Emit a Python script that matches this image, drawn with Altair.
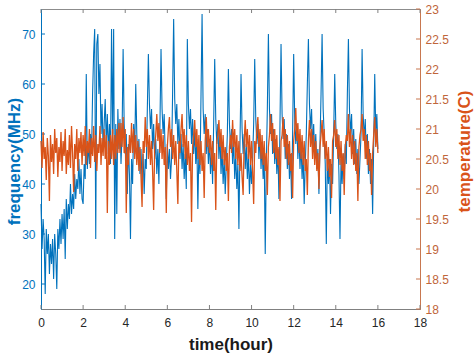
import altair as alt
import pandas as pd

# frequency (MHz), sampled every 0.05 h from 0 to 16 h (one row = one hour)
freq = [
    36, 27, 33, 29, 18, 31, 26, 30, 22, 28, 24, 29, 21, 30, 26, 19, 31, 27, 33, 28,
    34, 29, 35, 25, 37, 31, 36, 33, 40, 34, 38, 35, 42, 37, 41, 39, 45, 38, 43, 37,
    36, 44, 41, 62, 43, 48, 44, 50, 46, 58, 66, 71, 29, 68, 70, 58, 64, 50, 56, 47,
    52, 57, 48, 54, 46, 52, 44, 71, 50, 71, 29, 52, 34, 55, 47, 53, 44, 50, 67, 52,
    46, 50, 38, 48, 42, 29, 45, 40, 52, 46, 60, 50, 45, 49, 42, 47, 40, 46, 38, 45,
    43, 55, 66, 56, 51, 55, 47, 52, 45, 49, 42, 47, 40, 52, 67, 55, 50, 54, 46, 37,
    48, 43, 47, 41, 45, 58, 73, 57, 52, 56, 48, 53, 45, 50, 43, 48, 41, 46, 39, 69,
    56, 51, 55, 48, 53, 46, 51, 44, 49, 35, 47, 42, 58, 74, 55, 50, 54, 46, 51, 44,
    49, 42, 47, 40, 52, 65, 53, 48, 52, 45, 50, 42, 47, 40, 45, 38, 44, 50, 63, 52,
    47, 51, 44, 49, 41, 46, 39, 44, 31, 48, 62, 51, 46, 50, 43, 48, 41, 46, 38, 44,
    40, 45, 52, 65, 53, 48, 52, 45, 50, 43, 48, 41, 46, 26, 44, 55, 70, 55, 50, 54,
    46, 51, 44, 49, 42, 47, 37, 52, 68, 54, 49, 53, 45, 50, 43, 48, 41, 46, 37, 50,
    66, 53, 48, 52, 45, 50, 43, 48, 41, 46, 36, 44, 50, 60, 69, 56, 51, 55, 47, 52,
    45, 50, 43, 47, 38, 48, 58, 70, 55, 50, 44, 28, 46, 40, 45, 34, 44, 40, 50, 62,
    52, 47, 50, 42, 29, 45, 40, 46, 41, 48, 44, 58, 69, 55, 50, 54, 46, 51, 44, 49,
    42, 47, 40, 45, 50, 67, 54, 49, 53, 45, 50, 42, 47, 40, 45, 34, 48, 62, 50, 54,
    47,
]

# temperature (C), same sampling
temp = [
    20.8, 20.35, 20.95, 20.5, 20.7, 20.15, 20.85, 20.55, 19.8, 20.9, 20.45, 20.75, 20.25, 21.0, 20.6, 20.85, 20.2, 20.7, 20.45, 20.95,
    20.3, 20.8, 20.55, 21.0, 20.25, 20.65, 20.4, 20.9, 20.35, 21.05, 20.6, 19.95, 20.75, 20.5, 21.0, 20.3, 20.85, 20.6, 20.95, 20.4,
    20.9, 20.55, 21.05, 20.4, 20.8, 20.6, 21.0, 20.35, 20.85, 20.55, 21.05, 20.45, 20.9, 20.3, 20.75, 20.6, 21.05, 20.4, 20.85, 20.55,
    21.0, 20.5, 20.9, 19.6, 20.8, 20.4, 20.9, 20.5, 21.0, 20.4, 20.9, 20.5, 21.0, 20.6, 21.1, 20.6, 21.1, 20.7, 21.2, 20.6,
    21.0, 19.6, 20.7, 20.4, 20.9, 20.6, 21.1, 20.6, 21.0, 20.5, 20.9, 20.4, 20.8, 20.3, 20.7, 20.2, 19.7, 20.8, 20.6, 21.2,
    20.7, 21.0, 20.5, 20.9, 20.4, 20.8, 20.3, 19.65, 20.7, 20.9, 21.25, 20.8, 21.1, 20.6, 21.0, 20.5, 20.9, 20.4, 20.7, 19.6,
    20.7, 21.0, 21.2, 20.7, 21.0, 20.5, 20.9, 20.4, 20.8, 20.3, 19.75, 20.8, 20.6, 21.0, 21.25, 20.7, 21.0, 20.5, 20.9, 20.4,
    20.8, 20.3, 20.6, 19.45, 20.7, 20.9, 21.15, 20.7, 21.0, 20.5, 20.9, 20.4, 20.8, 20.3, 20.6, 19.85, 20.8, 21.2, 20.7, 21.0,
    20.6, 20.9, 20.4, 20.8, 20.3, 20.6, 19.65, 20.8, 20.9, 21.15, 20.7, 21.0, 20.5, 20.9, 20.4, 20.7, 20.3, 20.6, 19.8, 20.7,
    20.9, 20.6, 21.15, 20.7, 21.0, 20.5, 20.9, 20.4, 20.8, 20.3, 20.6, 20.2, 19.9, 20.8, 21.15, 20.7, 21.0, 20.5, 20.9, 20.4,
    20.8, 20.3, 19.75, 20.8, 20.6, 21.0, 21.2, 20.7, 21.0, 20.5, 20.9, 20.4, 20.8, 20.3, 20.6, 19.9, 20.7, 20.9, 21.25, 20.8,
    21.1, 20.6, 21.0, 20.5, 20.9, 20.4, 20.7, 19.8, 20.8, 20.9, 21.2, 20.7, 21.0, 20.5, 20.9, 20.4, 20.8, 20.3, 20.6, 19.85,
    20.8, 21.0, 21.35, 20.8, 21.1, 20.6, 21.0, 20.5, 20.9, 20.4, 20.8, 20.3, 20.5, 19.9, 20.8, 21.15, 20.7, 21.0, 20.5, 20.9,
    20.4, 20.8, 20.3, 20.6, 20.0, 20.7, 20.9, 21.15, 20.7, 21.0, 20.5, 20.8, 20.3, 20.7, 20.2, 20.5, 19.85, 20.8, 20.9, 21.15,
    20.7, 21.0, 20.5, 20.9, 20.4, 20.8, 20.3, 20.6, 19.9, 20.7, 20.9, 20.8, 21.25, 20.7, 21.0, 20.5, 20.9, 20.4, 20.8, 20.3,
    20.6, 19.8, 20.7, 20.9, 21.0, 21.25, 20.8, 21.0, 20.5, 20.9, 20.4, 20.8, 20.3, 20.6, 19.9, 20.6, 20.9, 21.2, 20.7, 21.0,
    20.6,
]

time = [round(i * 0.05, 2) for i in range(len(freq))]

x_ticks = [0, 2, 4, 6, 8, 10, 12, 14, 16, 18]
freq_ticks = [20, 30, 40, 50, 60, 70]
temp_ticks = [18, 18.5, 19, 19.5, 20, 20.5, 21, 21.5, 22, 22.5, 23]

W, H = 379, 300
BLUE = "#0072BD"
ORANGE = "#D95319"
GRAY = "#808080"
FONT = "Liberation Sans"

df = pd.DataFrame({"time": time, "freq": freq, "temp": temp})
xt = pd.DataFrame({"time": x_ticks})
ft = pd.DataFrame({"freq": freq_ticks})
tt = pd.DataFrame({"temp": temp_ticks})

x_scale = alt.Scale(domain=[0, 18], nice=False, zero=False)
f_scale = alt.Scale(domain=[15, 75], nice=False, zero=False)
t_scale = alt.Scale(domain=[18, 23], nice=False, zero=False)

x_axis = alt.Axis(
    values=x_ticks, title="time(hour)", ticks=False, grid=False,
    domainColor=GRAY, labelColor="#262626", labelPadding=8,
    labelFlush=False, labelOverlap=False,
    titleColor="#1a1a1a", titleY=40, titleBaseline="alphabetic")
f_axis = alt.Axis(
    orient="left", values=freq_ticks, title="frequency(MHz)", ticks=False,
    grid=False, domainColor=BLUE, labelColor=BLUE, labelPadding=6,
    labelOverlap=False,
    titleColor=BLUE, titleAngle=270, titleX=-27, titleY=152,
    titleBaseline="middle", titleAlign="center")
t_axis = alt.Axis(
    orient="right", values=temp_ticks, format="~g", title="temperature(C)",
    ticks=False, grid=False, domainColor="#C8774F", labelColor="#C0653A",
    labelPadding=5, labelOverlap=False,
    titleColor=ORANGE, titleAngle=270, titleX=44,
    titleY=142, titleBaseline="middle", titleAlign="center")

X = alt.X("time:Q", scale=x_scale, axis=x_axis)
YF = alt.Y("freq:Q", scale=f_scale, axis=f_axis)
YT = alt.Y("temp:Q", scale=t_scale, axis=t_axis)

blue = alt.Chart(df).mark_line(color=BLUE, strokeWidth=1.1).encode(x=X, y=YF)

xtick_bottom = alt.Chart(xt).mark_rule(color=GRAY).encode(
    x=X, y=alt.value(H), y2=alt.value(H - 4))
xtick_top = alt.Chart(xt).mark_rule(color=GRAY).encode(
    x=X, y=alt.value(0), y2=alt.value(4))
ftick = alt.Chart(ft).mark_rule(color=BLUE).encode(
    y=YF, x=alt.value(0), x2=alt.value(4))

orange = alt.Chart(df).mark_line(color=ORANGE, strokeWidth=1.3).encode(x=X, y=YT)
ttick = alt.Chart(tt).mark_rule(color="#C8774F").encode(
    y=YT, x=alt.value(W - 4), x2=alt.value(W))

left = alt.layer(blue, xtick_bottom, xtick_top, ftick)
right = alt.layer(orange, ttick)

chart = alt.layer(left, right).resolve_scale(y="independent").properties(
    width=W, height=H,
    autosize=alt.AutoSizeParams(type="none"),
    padding={"left": 41, "top": 9, "right": 54, "bottom": 45},
    background="white",
).configure_view(
    stroke="#8c8c8c", strokeWidth=1
).configure_axis(
    labelFont=FONT, titleFont=FONT, labelFontSize=12, titleFontSize=17,
    titleFontWeight="bold", domainWidth=1,
)

chart.save("out.html", embed_options={"renderer": "svg", "actions": False})
